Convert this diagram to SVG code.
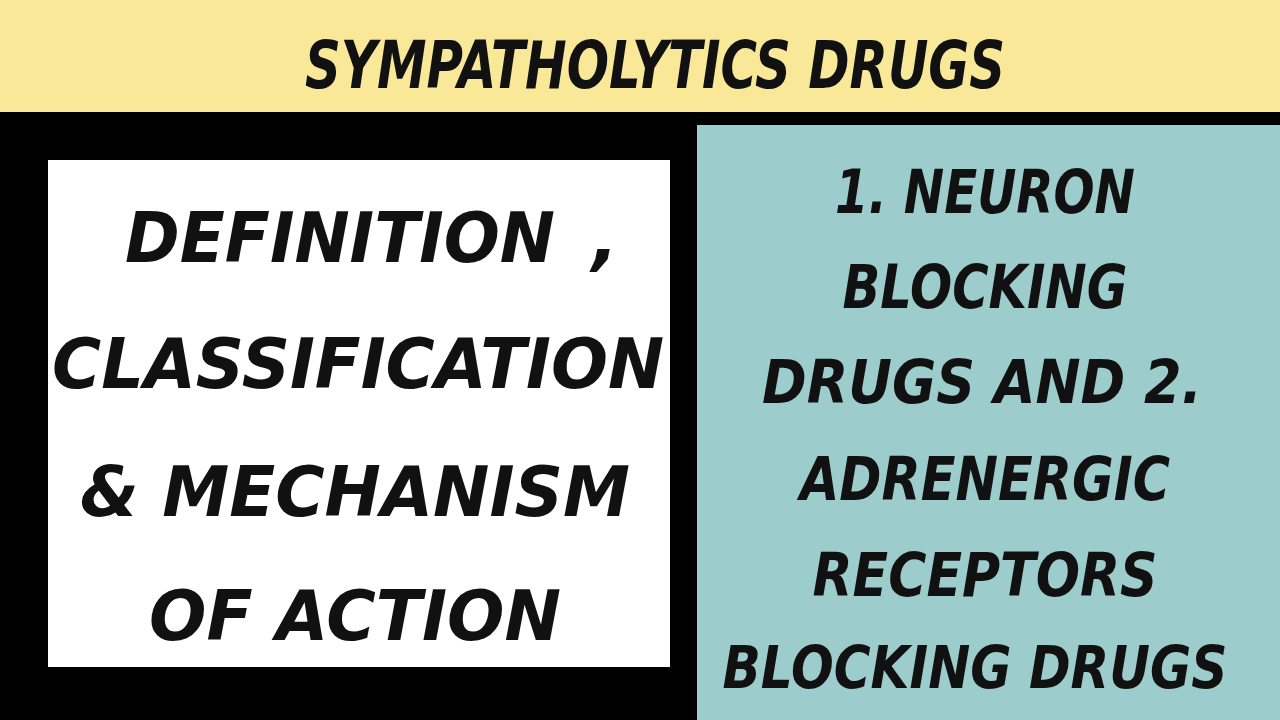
<svg xmlns="http://www.w3.org/2000/svg" width="1280" height="720" viewBox="0 0 1280 720">
<style>
.t{font-family:"DejaVu Sans","Liberation Sans",sans-serif;font-weight:bold;font-style:italic;fill:#111;text-anchor:middle}
</style>
<rect width="1280" height="720" fill="#000"/>
<g id="title">
<rect x="0" y="0" width="1280" height="112" fill="#f8e898"/>
<text class="t" x="655" y="88" font-size="66" font-style="normal" textLength="700" lengthAdjust="spacingAndGlyphs" style="font-family:'DejaVu Sans Condensed','Liberation Sans Narrow',sans-serif">SYMPATHOLYTICS DRUGS</text>
</g>
<g id="left">
<rect x="48" y="160" width="622" height="507" fill="#fff"/>
<text class="t" font-size="70" x="340" y="262" textLength="430" lengthAdjust="spacingAndGlyphs">DEFINITION</text>
<text class="t" font-size="70" x="605" y="262">,</text>
<text class="t" font-size="70" x="358" y="388" textLength="612" lengthAdjust="spacingAndGlyphs">CLASSIFICATION</text>
<text class="t" font-size="70" x="355" y="516" textLength="550" lengthAdjust="spacingAndGlyphs">&amp; MECHANISM</text>
<text class="t" font-size="70" x="355" y="640" textLength="412" lengthAdjust="spacingAndGlyphs">OF ACTION</text>
</g>
<g id="right">
<rect x="697" y="125" width="583" height="595" fill="#9ccccc"/>
<text class="t" font-size="60" x="985" y="213" textLength="300" lengthAdjust="spacingAndGlyphs">1. NEURON</text>
<text class="t" font-size="60" x="985" y="308" textLength="285" lengthAdjust="spacingAndGlyphs">BLOCKING</text>
<text class="t" font-size="60" x="982" y="403" textLength="440" lengthAdjust="spacingAndGlyphs">DRUGS  AND 2.</text>
<text class="t" font-size="60" x="985" y="500" textLength="370" lengthAdjust="spacingAndGlyphs">ADRENERGIC</text>
<text class="t" font-size="60" x="985" y="596" textLength="345" lengthAdjust="spacingAndGlyphs">RECEPTORS</text>
<text class="t" font-size="58" x="975" y="688" textLength="505" lengthAdjust="spacingAndGlyphs">BLOCKING DRUGS</text>
</g>
</svg>
